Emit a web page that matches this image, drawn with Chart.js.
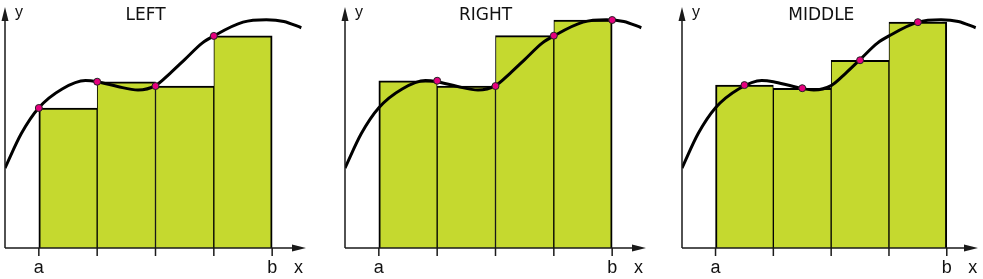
<!DOCTYPE html>
<html>
<head>
<meta charset="utf-8">
<script src="https://cdn.jsdelivr.net/npm/chart.js@4"></script>
<style>
  html, body { margin: 0; padding: 0; background: #fff; overflow: hidden; }
  .panel { position: absolute; top: 0; height: 279px; }
</style>
</head>
<body>
<div class="panel" style="left:0;width:330px"><canvas id="left"></canvas></div>
<div class="panel" style="left:340px;width:330px"><canvas id="right"></canvas></div>
<div class="panel" style="left:677px;width:306px"><canvas id="middle"></canvas></div>
<script>
// f(x); x counted in sub-interval widths (a = 0, b = 4)
const curveX = [-0.58, -0.3, 0, 0.4, 0.8, 1, 1.35, 1.7, 2, 2.25, 2.5, 2.8, 3, 3.5, 3.9, 4.2, 4.5];
const curveY = [3.32, 4.75, 5.82, 6.6, 6.95, 6.9, 6.7, 6.56, 6.74, 7.25, 7.82, 8.5, 8.8, 9.37, 9.47, 9.4, 9.14];

// rectangles (centres) and tick marks
const barX = [0.5, 1.5, 2.5, 3.5];
const tickX = [0, 1, 2, 3, 4];
const tickLabels = ['a', '', '', '', 'b'];

// the three sums
const titles = ['LEFT', 'RIGHT', 'MIDDLE'];
const leftHeights = [5.81, 6.9, 6.72, 8.8];
const rightHeights = [6.94, 6.72, 8.81, 9.46];
const middleHeights = [6.76, 6.63, 7.79, 9.37];
const leftSampleX = [0, 1, 2, 3];
const rightSampleX = [1, 2, 3, 4];
const middleSampleX = [0.5, 1.5, 2.5, 3.5];

const xMin = -0.58;
const yMax = 10;

const axesPlugin = {
  id: 'axes',
  afterDatasetsDraw(chart, args, opts) {
    const { ctx, scales: { x, y } } = chart;
    const x0 = x.getPixelForValue(xMin), y0 = y.getPixelForValue(0);
    const xTip = x.getPixelForValue(opts.xMax), yTip = y.getPixelForValue(yMax);
    ctx.save();
    ctx.strokeStyle = '#1a1a1a';
    ctx.fillStyle = '#1a1a1a';
    ctx.lineWidth = 1.5;
    ctx.beginPath();
    ctx.moveTo(x0, y0); ctx.lineTo(xTip - 8, y0);
    ctx.moveTo(x0, y0); ctx.lineTo(x0, yTip + 8);
    tickX.forEach(v => {
      const px = x.getPixelForValue(v);
      ctx.moveTo(px, y0); ctx.lineTo(px, y0 + 8);
    });
    ctx.stroke();
    // arrow heads
    ctx.beginPath();
    ctx.moveTo(xTip, y0); ctx.lineTo(xTip - 14, y0 - 3.5); ctx.lineTo(xTip - 14, y0 + 3.5); ctx.closePath();
    ctx.moveTo(x0, yTip); ctx.lineTo(x0 - 3.5, yTip + 14); ctx.lineTo(x0 + 3.5, yTip + 14); ctx.closePath();
    ctx.fill();

    // labels
    ctx.fillStyle = '#111';
    ctx.textAlign = 'center';
    ctx.textBaseline = 'alphabetic';
    ctx.font = '18px "Liberation Sans", Arial, sans-serif';
    tickX.forEach((v, i) => {
      if (tickLabels[i]) ctx.fillText(tickLabels[i], x.getPixelForValue(v), y0 + 25);
    });
    ctx.fillText('x', x.getPixelForValue(4.45), y0 + 25);
    ctx.font = '16px "Liberation Sans", Arial, sans-serif';
    ctx.fillText('y', x0 + 14, 17);

    // title
    ctx.font = '17px "DejaVu Sans", sans-serif';
    ctx.textBaseline = 'middle';
    ctx.fillText(opts.title, x.getPixelForValue(1.83), 16);
    ctx.restore();
  }
};

function makeChart(id, title, heights, sampleX, xMax, padRight) {
  // dots sit on the rectangle tops
  const samples = sampleX.map((v, i) => ({ x: v, y: heights[i] }));
  new Chart(document.getElementById(id), {
    type: 'bar',
    data: {
      datasets: [
        {
          type: 'line',
          data: samples,
          showLine: false,
          pointRadius: 3.5,
          pointBorderWidth: 1,
          pointBorderColor: '#222',
          pointBackgroundColor: '#e5007e',
          order: 1
        },
        {
          type: 'line',
          data: curveX.map((v, i) => ({ x: v, y: curveY[i] })),
          borderColor: '#000',
          borderWidth: 3,
          pointRadius: 0,
          cubicInterpolationMode: 'monotone',
          order: 2
        },
        {
          type: 'bar',
          data: barX.map((v, i) => ({ x: v, y: heights[i] })),
          backgroundColor: '#c5d92f',
          borderColor: '#000',
          borderWidth: c => ({ top: 2, bottom: 0, left: c.dataIndex === 0 ? 2 : 1, right: c.dataIndex === 3 ? 2 : 1 }),
          borderSkipped: false,
          barPercentage: 1,
          categoryPercentage: 1,
          order: 3
        }
      ]
    },
    options: {
      responsive: true,
      maintainAspectRatio: false,
      animation: false,
      layout: { padding: { left: 4.5, top: 7, right: padRight, bottom: 31 } },
      scales: {
        x: {
          type: 'linear', min: xMin, max: xMax, display: false, offset: false,
          afterBuildTicks: s => { s.ticks = tickX.map(v => ({ value: v })); }
        },
        y: { min: 0, max: yMax, display: false }
      },
      plugins: {
        legend: { display: false },
        tooltip: { enabled: false },
        axes: { title: title, xMax: xMax }
      }
    },
    plugins: [axesPlugin]
  });
}

makeChart('left', titles[0], leftHeights, leftSampleX, 4.58, 24);
makeChart('right', titles[1], rightHeights, rightSampleX, 4.58, 24);
makeChart('middle', titles[2], middleHeights, middleSampleX, 4.54, 3);
</script>
</body>
</html>
